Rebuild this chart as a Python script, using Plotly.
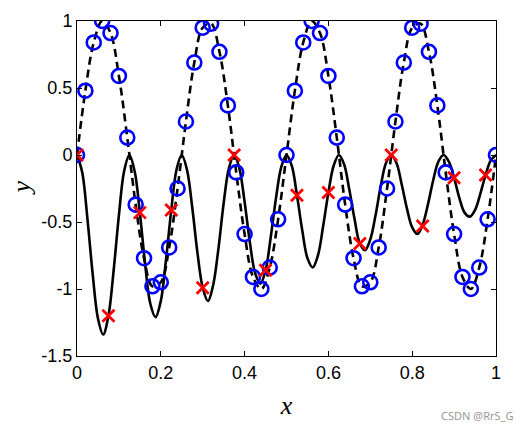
import plotly.graph_objects as go
import numpy as np

# 実線（元の関数）: x = 0, 0.0125, ..., 1
x_line = np.linspace(0, 1, 81)
y_line = [0, -0.13, -0.48, -0.89, -1.22, -1.34, -1.20, -0.86, -0.45, -0.12,
          0, -0.12, -0.43, -0.81, -1.11, -1.21, -1.09, -0.78, -0.41, -0.11,
          0, -0.11, -0.39, -0.73, -0.99, -1.09, -0.97, -0.70, -0.36, -0.10,
          0, -0.10, -0.35, -0.65, -0.88, -0.96, -0.86, -0.61, -0.32, -0.09,
          0, -0.08, -0.30, -0.56, -0.77, -0.84, -0.75, -0.53, -0.28, -0.08,
          0, -0.07, -0.26, -0.48, -0.66, -0.71, -0.63, -0.45, -0.23, -0.06,
          0, -0.06, -0.22, -0.40, -0.54, -0.59, -0.52, -0.37, -0.19, -0.05,
          0, -0.05, -0.17, -0.32, -0.43, -0.46, -0.41, -0.29, -0.15, -0.04,
          0]

# 破線＋丸印: x = 0, 0.02, ..., 1
x_circ = np.linspace(0, 1, 51)
y_circ = [0, 0.48, 0.84, 1.00, 0.91, 0.59, 0.13, -0.37, -0.77, -0.98,
          -0.95, -0.69, -0.25, 0.25, 0.69, 0.95, 0.98, 0.77, 0.37, -0.13,
          -0.59, -0.91, -1.00, -0.84, -0.48, 0,
          0.48, 0.84, 1.00, 0.91, 0.59, 0.13, -0.37, -0.77, -0.98,
          -0.95, -0.69, -0.25, 0.25, 0.69, 0.95, 0.98, 0.77, 0.37, -0.13,
          -0.59, -0.91, -1.00, -0.84, -0.48, 0]

# 赤いバツ印: x = 0, 0.075, ..., 0.975
x_cross = [0, 0.075, 0.15, 0.225, 0.3, 0.375, 0.45, 0.525, 0.6, 0.675,
           0.75, 0.825, 0.9, 0.975]
y_cross = [0, -1.20, -0.43, -0.41, -0.99, 0, -0.86, -0.30, -0.28, -0.66,
           0, -0.53, -0.17, -0.15]

x_ticks = [0, 0.2, 0.4, 0.6, 0.8, 1]
x_ticklabels = ['0', '0.2', '0.4', '0.6', '0.8', '1']
y_ticks = [-1.5, -1, -0.5, 0, 0.5, 1]
y_ticklabels = ['-1.5', '-1', '-0.5', '0', '0.5', '1']

fig = go.Figure()

fig.add_trace(go.Scatter(
    x=x_line, y=y_line, mode='lines',
    line=dict(color='black', width=2.6, shape='spline', smoothing=1),
))

fig.add_trace(go.Scatter(
    x=x_circ, y=y_circ, mode='lines',
    line=dict(color='black', width=2.6, dash='8px,5px', shape='spline', smoothing=1),
))

fig.add_trace(go.Scatter(
    x=x_circ, y=y_circ, mode='markers',
    marker=dict(symbol='circle-open', size=14, color='#0000ff', line=dict(width=2.6)),
))

fig.add_trace(go.Scatter(
    x=x_cross, y=y_cross, mode='markers',
    marker=dict(symbol='x-thin-open', size=12, color='#ff0000', line=dict(width=2.8, color='#ff0000')),
))

axis_common = dict(
    showgrid=False, zeroline=False, automargin=False,
    showline=True, linecolor='black', linewidth=1, mirror='allticks',
    ticks='inside', ticklen=5, tickcolor='black',
    tickfont=dict(family='Liberation Sans, Arial', size=18, color='black'),
)

fig.update_xaxes(
    range=[0, 1], tickvals=x_ticks, ticktext=x_ticklabels,
    title=dict(text='<i>x</i>', font=dict(family='Liberation Serif', size=26, color='black'), standoff=14),
    **axis_common
)
fig.update_yaxes(
    range=[-1.5, 1], tickvals=y_ticks, ticktext=y_ticklabels,
    **axis_common
)

# y軸ラベル（位置を細かく合わせるため注釈で）
fig.add_annotation(
    text='<i>y</i>', xref='paper', yref='paper', x=0, y=0.5,
    xanchor='center', yanchor='middle', xshift=-56, textangle=-90, showarrow=False,
    font=dict(family='Liberation Serif', size=26, color='black'),
)

fig.add_annotation(
    text='CSDN @RrS_G', xref='paper', yref='paper', x=1.045, y=-0.179,
    xanchor='right', yanchor='middle', showarrow=False,
    font=dict(family='Noto Sans', size=11, color='#999999'),
)

# ページ余白(8px)の分だけ小さくする
fig.update_layout(
    width=524, height=422,
    margin=dict(l=69, r=36, t=13, b=74),
    paper_bgcolor='white', plot_bgcolor='white',
    showlegend=False,
)

fig.write_html("out.html")
